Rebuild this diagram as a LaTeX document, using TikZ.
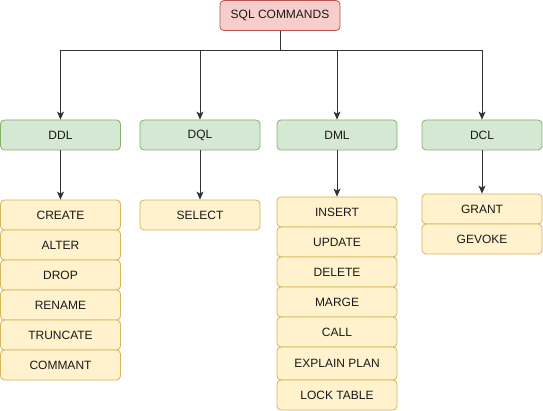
\documentclass[tikz,border=0pt]{standalone}
\usepackage{fontspec}
\setmainfont{Liberation Sans}
\usetikzlibrary{arrows.meta}
\definecolor{rootfill}{HTML}{F8CECC}
\definecolor{rootdraw}{HTML}{B85450}
\definecolor{grpfill}{HTML}{D5E8D4}
\definecolor{grpdraw}{HTML}{82B366}
\definecolor{itemfill}{HTML}{FFF2CC}
\definecolor{itemdraw}{HTML}{D6B656}
\definecolor{linec}{HTML}{333333}
\tikzset{
  box/.style={rounded corners=4pt, line width=0.8pt, minimum width=120pt, minimum height=30pt, inner sep=0pt, font=\fontsize{12}{14}\selectfont, text=black!90},
  rootbox/.style={box, fill=rootfill, draw=rootdraw},
  grpbox/.style={box, fill=grpfill, draw=grpdraw},
  itembox/.style={box, fill=itemfill, draw=itemdraw},
  conn/.style={draw=linec, line width=0.8pt},
  arr/.style={conn, -{Stealth[length=8pt,width=7pt,inset=2pt]}}
}
\begin{document}
\begin{tikzpicture}[x=1pt,y=-1pt]
\useasboundingbox (0,0) rectangle (543,411);
\node[rootbox] (root) at (280,15.5) {SQL COMMANDS};
\node[grpbox] (ddl) at (60.5,135) {DDL};
\node[grpbox] (dql) at (200,135) {DQL};
\node[grpbox] (dml) at (337,135) {DML};
\node[grpbox] (dcl) at (482,135) {DCL};
% DDL items
\node[itembox] (create) at (60.5,215) {CREATE};
\node[itembox] (alter) at (60.5,245) {ALTER};
\node[itembox] (drop) at (60.5,275) {DROP};
\node[itembox] (rename) at (60.5,305) {RENAME};
\node[itembox] (truncate) at (60.5,335) {TRUNCATE};
\node[itembox] (commant) at (60.5,365) {COMMANT};
% DQL
\node[itembox] (select) at (200,215) {SELECT};
% DML
\node[itembox] (insert) at (337,212) {INSERT};
\node[itembox] (update) at (337,242) {UPDATE};
\node[itembox] (delete) at (337,272) {DELETE};
\node[itembox] (marge) at (337,302) {MARGE};
\node[itembox] (call) at (337,332) {CALL};
\node[itembox, minimum height=33pt] (explain) at (337,363.5) {EXPLAIN PLAN};
\node[itembox] (lock) at (337,395) {LOCK TABLE};
% DCL
\node[itembox] (grant) at (482,209) {GRANT};
\node[itembox] (gevoke) at (482,239) {GEVOKE};
% connectors
\coordinate (hub) at (280,50);
\draw[conn] (root.south) -- (hub);
\draw[arr] (hub) -| (ddl.north);
\draw[arr] (hub) -| (dql.north);
\draw[arr] (hub) -| (dml.north);
\draw[arr] (hub) -| (dcl.north);
\draw[arr] (ddl) -- (create);
\draw[arr] (dql) -- (select);
\draw[arr] (dml) -- (insert);
\draw[arr] (dcl) -- (grant);
\end{tikzpicture}
\end{document}
